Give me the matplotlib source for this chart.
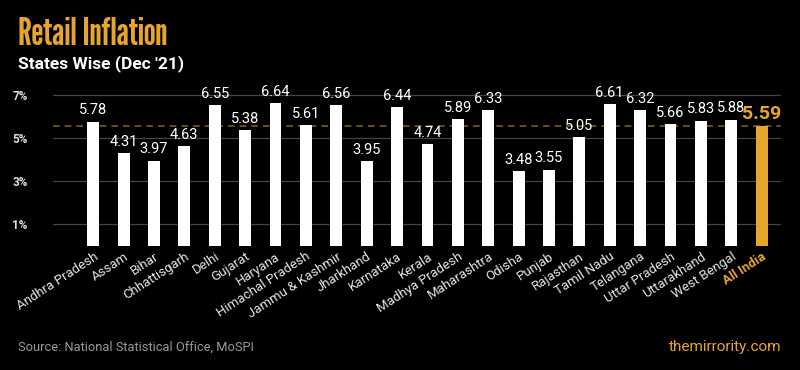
import matplotlib
matplotlib.use("Agg")
import matplotlib.pyplot as plt

states = ["Andhra Pradesh", "Assam", "Bihar", "Chhattisgarh", "Delhi", "Gujarat",
          "Haryana", "Himachal Pradesh", "Jammu & Kashmir", "Jharkhand", "Karnataka",
          "Kerala", "Madhya Pradesh", "Maharashtra", "Odisha", "Punjab", "Rajasthan",
          "Tamil Nadu", "Telangana", "Uttar Pradesh", "Uttarakhand", "West Bengal",
          "All India"]
values = [5.78, 4.31, 3.97, 4.63, 6.55, 5.38, 6.64, 5.61, 6.56, 3.95, 6.44, 4.74,
          5.89, 6.33, 3.48, 3.55, 5.05, 6.61, 6.32, 5.66, 5.83, 5.88, 5.59]
yticks = [1, 3, 5, 7]
ytick_labels = ["1%", "3%", "5%", "7%"]
avg = 5.59

GOLD = "#E8A52C"
BG = "#000000"

plt.rcParams['font.family'] = ['Roboto', 'DejaVu Sans']

fig = plt.figure(figsize=(8, 3.7), dpi=100, facecolor=BG)
ax = fig.add_axes([0.066, 0.3357, 0.91, 0.4353])
ax.set_facecolor(BG)

x = list(range(len(states)))
colors = ["white"] * (len(states) - 1) + [GOLD]
ax.bar(x, values, width=0.39, color=colors, zorder=3)

for i, v in enumerate(values):
    if i == len(values) - 1:
        ax.text(i, v + 0.12, f"{v:.2f}", ha="center", va="bottom", color=GOLD,
                fontsize=14, fontweight="bold", zorder=4)
    else:
        ax.text(i, v + 0.2, f"{v:.2f}", ha="center", va="bottom", color="white",
                fontsize=10.5, zorder=4)

ax.axhline(avg, color="#7a5c1e", linestyle=(0, (4, 3)), linewidth=1.2, zorder=2)

ax.set_xlim(-1.33, len(states) - 1 + 0.63)
ax.set_ylim(0, 7.5)
ax.set_yticks(yticks)
ax.set_yticklabels(ytick_labels, color="#dddddd", fontsize=8.5, fontweight="bold")
ax.yaxis.grid(True, color="#444444", linewidth=0.9, zorder=0)
ax.tick_params(axis="y", length=0, pad=18)
ax.tick_params(axis="x", length=0, pad=3)
ax.set_xticks(x)
ax.set_xticklabels(states, rotation=33, ha="right", va="top", rotation_mode="anchor",
                   fontsize=9.5, color="#e6e6e6")
lbl = ax.get_xticklabels()[-1]
lbl.set_color(GOLD)
lbl.set_fontweight("bold")
for s in ax.spines.values():
    s.set_visible(False)

fig.text(18 / 800, 1 - 45 / 370, "Retail Inflation", color=GOLD, fontsize=27.5,
         family=["League Gothic", "DejaVu Sans"],
         ha="left", va="baseline")
fig.text(18 / 800, 1 - 68 / 370, "States Wise (Dec '21)", color="white", fontsize=12.5,
         fontweight="bold", ha="left", va="baseline")
fig.text(18 / 800, 1 - 351 / 370, "Source: National Statistical Office, MoSPI",
         color="#9a9a9a", fontsize=9.3, ha="left", va="baseline")
fig.text(781 / 800, 1 - 351 / 370, "themirrority.com", color=GOLD, fontsize=11,
         ha="right", va="baseline")

fig.savefig("out.png", dpi=100, facecolor=BG)
